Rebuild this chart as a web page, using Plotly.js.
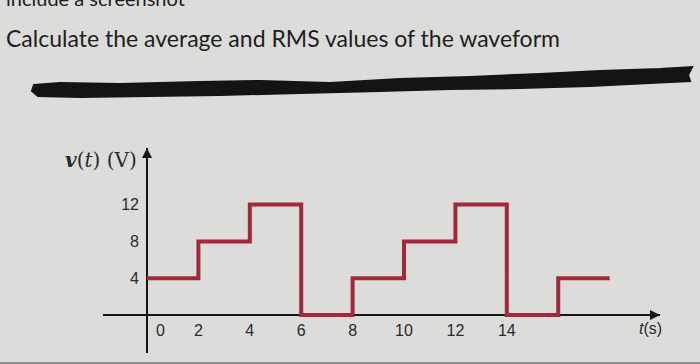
<!DOCTYPE html>
<html>
<head>
<meta charset="utf-8">
<script src="https://cdn.plot.ly/plotly-3.0.1.min.js"></script>
<style>html,body{margin:0;padding:0;background:#dcdcda;}#chart{width:700px;height:364px;}</style>
</head>
<body>
<div id="chart"></div>
<script>
// ---- data ----
const timeS = [0, 2, 4, 6, 8, 10, 12, 14, 16, 18];
const voltageV = [4, 8, 12, 0, 4, 8, 12, 0, 4, 4];
const xTickVals = [0, 2, 4, 6, 8, 10, 12, 14];
const xTickText = ['\u00a0\u00a0\u00a0\u00a0\u00a0\u00a00', '2', '4', '6', '8', '10', '12', '14'];
const yTickVals = [4, 8, 12];
const yTickText = ['4', '8', '12'];

// ---- layout geometry (pixels) ----
const L = 103, R = 660, T = 148, B = 353;
const W = R - L, H = B - T;
const px = x => (x - L) / W;
const py = y => (B - y) / H;
const xRange = [-1.712, 19.96];
const yRange = [-4.13, 18.15];

const tickFont = {family: 'Liberation Sans, Arial, sans-serif', size: 16, color: '#2a2a2a'};

// scribble path (pixel coords -> paper)
function pathFrom(pts) {
  return pts.map((p, i) => (i ? 'L' : 'M') + px(p[0]).toFixed(4) + ',' + py(p[1]).toFixed(4)).join(' ') + ' Z';
}
const scribble = pathFrom([
  [34, 85], [60, 83], [120, 84], [200, 82], [260, 81], [330, 83], [400, 79], [470, 77], [540, 74], [600, 71], [660, 69], [692, 67],
  [688, 75], [690, 81], [650, 83], [590, 86], [520, 88], [450, 89], [380, 91], [300, 93], [220, 95], [150, 96], [80, 97], [38, 96], [32, 91]
]);

const data = [{
  x: timeS,
  y: voltageV,
  type: 'scatter',
  mode: 'lines',
  line: {shape: 'hv', color: '#a3283a', width: 4},
  hoverinfo: 'skip',
  cliponaxis: false
}];

const layout = {
  width: 700, height: 364,
  margin: {l: L, r: 700 - R, t: T, b: 364 - B, pad: 0},
  paper_bgcolor: '#dcdcda',
  plot_bgcolor: 'rgba(0,0,0,0)',
  showlegend: false,
  xaxis: {
    range: xRange, anchor: 'free', position: -yRange[0] / (yRange[1] - yRange[0]),
    showgrid: false, showline: false, zeroline: true, zerolinecolor: '#151515', zerolinewidth: 2,
    tickmode: 'array', tickvals: xTickVals, ticktext: xTickText, ticks: '', ticklabelstandoff: 4,
    tickfont: tickFont, fixedrange: true
  },
  yaxis: {
    range: yRange, anchor: 'free', position: -xRange[0] / (xRange[1] - xRange[0]),
    showgrid: false, showline: false, zeroline: true, zerolinecolor: '#151515', zerolinewidth: 2,
    tickmode: 'array', tickvals: yTickVals, ticktext: yTickText, ticks: '', ticklabelstandoff: 8,
    tickfont: tickFont, fixedrange: true
  },
  shapes: [
    {type: 'path', xref: 'paper', yref: 'paper', path: scribble, fillcolor: '#141414', line: {color: '#141414', width: 2}, layer: 'above'},
    {type: 'rect', xref: 'paper', yref: 'paper', x0: px(0), x1: px(700), y0: py(362), y1: py(364), fillcolor: '#8e8e8c', line: {width: 0}}
  ],
  annotations: [
    {xref: 'paper', yref: 'paper', x: px(4), y: py(38), xanchor: 'left', yanchor: 'middle', showarrow: false,
     text: 'Calculate the average and RMS values of the waveform',
     font: {family: 'Lato, sans-serif', size: 23, color: '#1e1e1e'}},
    {xref: 'paper', yref: 'paper', x: px(4), y: py(-2), xanchor: 'left', yanchor: 'middle', showarrow: false,
     text: 'include a screenshot',
     font: {family: 'Lato, sans-serif', size: 20, color: '#1e1e1e'}},
    {xref: 'paper', yref: 'paper', x: px(139), y: py(160), xanchor: 'right', yanchor: 'middle', showarrow: false,
     text: '<b><i>v</i></b>(<i>t</i>) (V)',
     font: {family: 'DejaVu Serif, Liberation Serif, serif', size: 20, color: '#2a2a2a'}},
    {xref: 'paper', yref: 'paper', x: px(664), y: py(328), xanchor: 'right', yanchor: 'middle', showarrow: false,
     text: '<i>t</i>(s)',
     font: {family: 'Liberation Sans, Arial, sans-serif', size: 16, color: '#2a2a2a'}},
    {xref: 'x', yref: 'y', x: xRange[1], y: 0, ax: -18, ay: 0, text: '', showarrow: true,
     arrowhead: 2, arrowsize: 1, arrowwidth: 2, arrowcolor: '#151515'},
    {xref: 'x', yref: 'y', x: 0, y: yRange[1], ax: 0, ay: 18, text: '', showarrow: true,
     arrowhead: 2, arrowsize: 1, arrowwidth: 2, arrowcolor: '#151515'}
  ]
};

Plotly.newPlot('chart', data, layout, {staticPlot: true, displayModeBar: false});
</script>
</body>
</html>
